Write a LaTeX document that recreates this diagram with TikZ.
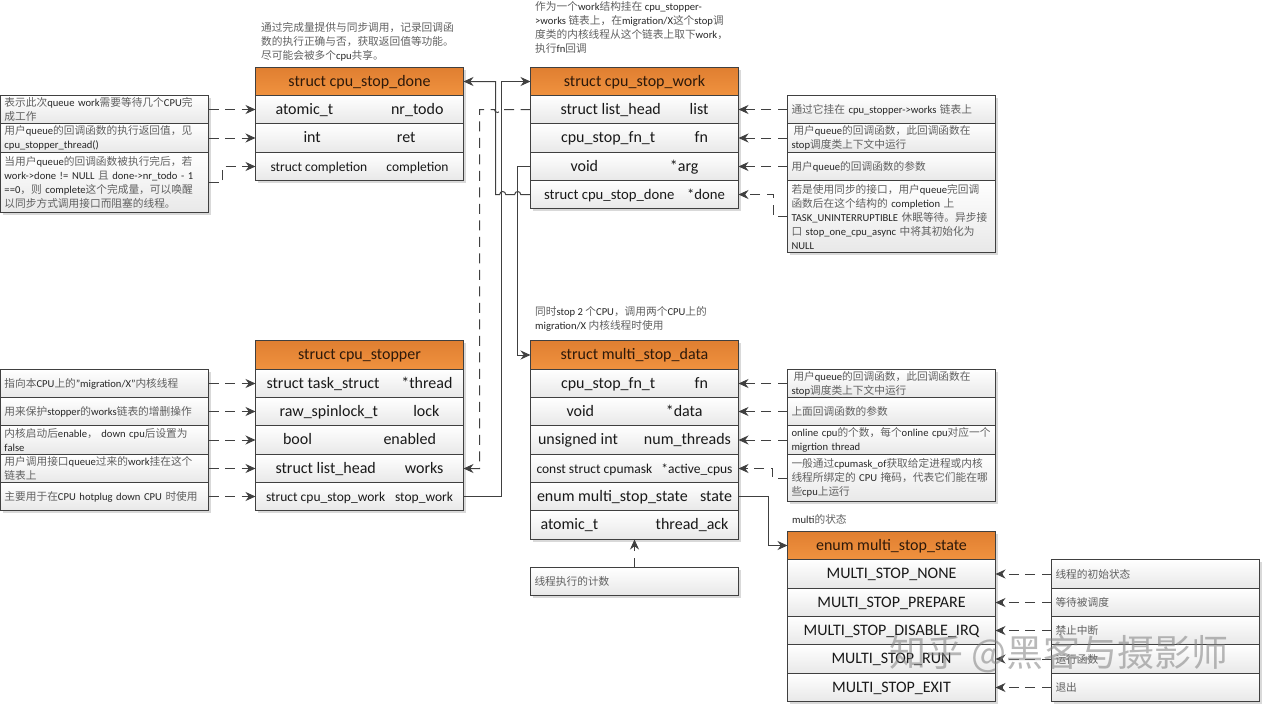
\documentclass[tikz,border=0pt]{standalone}
\usepackage{fontspec}
\setmainfont{Carlito}
\newfontfamily\cjk{Noto Sans CJK SC}
\usetikzlibrary{arrows.meta,shadows}
\definecolor{linegray}{HTML}{404040}
\definecolor{zhgray}{HTML}{606060}
\definecolor{hdtop}{HTML}{E07F31}
\definecolor{hdbot}{HTML}{F0923F}
\newcommand{\zh}[1]{{\cjk\fontsize{10.7}{14}\selectfont\color{zhgray}#1}}
\newcommand{\fld}[3]{\hbox to #1pt{#2\hfill #3}}
\tikzset{
	basebox/.style={draw=linegray, line width=.9pt, inner sep=0pt, outer sep=0pt, minimum width=208pt,
		top color=white, bottom color=black!9, text=black!90,
		copy shadow={shadow xshift=2pt, shadow yshift=-2pt, draw=none, fill=black!15}},
	rowbox/.style={basebox, text height=11.5pt, text depth=2.5pt, font=\fontsize{16}{18}\selectfont},
	smallrow/.style={rowbox, font=\fontsize{13.5}{16}\selectfont},
	hdbox/.style={rowbox, top color=hdtop, bottom color=hdbot, text=black!80!hdtop},
	notebox/.style={basebox, align=left, text width=200pt, inner xsep=4pt, text=black!85,
		font=\fontsize{10.6}{14}\selectfont},
	plainnote/.style={inner sep=0pt, anchor=north west, align=left, text=black!85,
		font=\fontsize{10.6}{14}\selectfont},
	wire/.style={draw=linegray, line width=1pt, -{Stealth[length=10pt,width=9pt]}},
	dashwire/.style={wire, dash pattern=on 10pt off 6.5pt}
}
\begin{document}
\begin{tikzpicture}[x=1pt,y=-1pt]
	\useasboundingbox (0,0) rectangle (1262,704);
	% cpu_stop_done
	\node[hdbox, minimum height=28pt] (dnhd) at (359.5,81.5) {struct cpu\_stop\_done};
	\node[rowbox, minimum height=28pt] (dnatom) at (359.5,109.5) {\fld{168}{atomic\_t}{nr\_todo}};
	\node[rowbox, minimum height=29pt] (dnret) at (359.5,138) {\fld{112}{int}{ret}};
	\node[smallrow, minimum height=28pt] (dncomp) at (359.5,166.5) {\fld{178}{struct completion}{completion}};
	% cpu_stop_work
	\node[hdbox, minimum height=28pt] (wkhd) at (634.5,81.5) {struct cpu\_stop\_work};
	\node[rowbox, minimum height=28pt] (wklist) at (634.5,109.5) {\fld{148}{struct list\_head}{list}};
	\node[rowbox, minimum height=29pt] (wkfn) at (634.5,138) {\fld{147}{cpu\_stop\_fn\_t}{fn}};
	\node[rowbox, minimum height=28pt] (wkarg) at (634.5,166.5) {\fld{128}{void}{*arg}};
	\node[rowbox, minimum height=28pt, font=\fontsize{14.7}{16}\selectfont] (wkdone) at (634.5,194.5) {\fld{181}{struct cpu\_stop\_done}{*done}};
	% cpu_stopper
	\node[hdbox, minimum height=29pt] (sthd) at (359.5,355) {struct cpu\_stopper};
	\node[rowbox, minimum height=28pt] (stthr) at (359.5,383.5) {\fld{186}{struct task\_struct}{*thread}};
	\node[rowbox, minimum height=28pt] (stlock) at (359.5,411.5) {\fld{160}{raw\_spinlock\_t}{lock}};
	\node[rowbox, minimum height=29pt] (sten) at (359.5,440) {\fld{153}{bool}{enabled}};
	\node[rowbox, minimum height=28pt] (stworks) at (359.5,468.5) {\fld{168}{struct list\_head}{works}};
	\node[smallrow, minimum height=28pt] (stwork) at (359.5,496.5) {\fld{187}{struct cpu\_stop\_work}{stop\_work}};
	% multi_stop_data
	\node[hdbox, minimum height=29pt] (mdhd) at (634.5,355) {struct multi\_stop\_data};
	\node[rowbox, minimum height=28pt] (mdfn) at (634.5,383.5) {\fld{147}{cpu\_stop\_fn\_t}{fn}};
	\node[rowbox, minimum height=28pt] (mddata) at (634.5,411.5) {\fld{136}{void}{*data}};
	\node[rowbox, minimum height=29pt] (mdnum) at (634.5,440) {\fld{193}{unsigned int}{num\_threads}};
	\node[smallrow, minimum height=28pt] (mdmask) at (634.5,468.5) {\fld{196}{const struct cpumask}{*active\_cpus}};
	\node[rowbox, minimum height=28pt] (mdstate) at (634.5,496.5) {\fld{195}{enum multi\_stop\_state}{state}};
	\node[rowbox, minimum height=29pt] (mdack) at (634.5,525) {\fld{188}{atomic\_t}{thread\_ack}};
	\node[notebox, minimum height=28pt] (mdnote) at (634.5,581.5) {\zh{线程执行的计数}};
	% multi_stop_state
	\node[hdbox, minimum height=28pt] (eshd) at (891.5,545.5) {enum multi\_stop\_state};
	\node[rowbox, minimum height=29pt] (esnone) at (891.5,574) {MULTI\_STOP\_NONE};
	\node[rowbox, minimum height=28pt] (esprep) at (891.5,602.5) {MULTI\_STOP\_PREPARE};
	\node[rowbox, minimum height=28pt] (esirq) at (891.5,630.5) {MULTI\_STOP\_DISABLE\_IRQ};
	\node[rowbox, minimum height=29pt] (esrun) at (891.5,659) {MULTI\_STOP\_RUN};
	\node[rowbox, minimum height=28pt] (esexit) at (891.5,687.5) {MULTI\_STOP\_EXIT};
	% left notes of cpu_stop_done
	\node[notebox, minimum height=28pt] (nd1) at (104.5,109.5) {\zh{表示此次}queue work\zh{需要等待几个}CPU\zh{完}\\\zh{成工作}};
	\node[notebox, minimum height=29pt] (nd2) at (104.5,138) {\zh{用户}queue\zh{的回调函数的执行返回值，见}\\cpu\_stopper\_thread()};
	\node[notebox, minimum height=60pt] (nd3) at (104.5,182.5) {\zh{当用户}queue\zh{的回调函数被执行完后，若}\\work->done != NULL \zh{且} done->nr\_todo - 1\\==0\zh{，则} complete\zh{这个完成量，可以唤醒}\\\zh{以同步方式调用接口而阻塞的线程。}};
	% right notes of cpu_stop_work
	\node[notebox, minimum height=28pt] (nw1) at (891.5,109.5) {\zh{通过它挂在} cpu\_stopper->works \zh{链表上}};
	\node[notebox, minimum height=29pt] (nw2) at (891.5,138) {\hspace{2pt}\zh{用户}queue\zh{的回调函数，此回调函数在}\\stop\zh{调度类上下文中运行}};
	\node[notebox, minimum height=28pt] (nw3) at (891.5,166.5) {\zh{用户}queue\zh{的回调函数的参数}};
	\node[notebox, minimum height=72pt] (nw4) at (891.5,216.5) {\zh{若是使用同步的接口，用户}queue\zh{完回调}\\\zh{函数后在这个结构的} completion \zh{上}\\TASK\_UNINTERRUPTIBLE \zh{休眠等待。异步接}\\\zh{口} stop\_one\_cpu\_async \zh{中将其初始化为}\\NULL};
	% left notes of cpu_stopper
	\node[notebox, minimum height=28pt] (ns1) at (104.5,383.5) {\zh{指向本}CPU\zh{上的}"migration/X"\zh{内核线程}};
	\node[notebox, minimum height=28pt] (ns2) at (104.5,411.5) {\zh{用来保护}stopper\zh{的}works\zh{链表的增删操作}};
	\node[notebox, minimum height=29pt] (ns3) at (104.5,440) {\zh{内核启动后}enable\zh{，} down cpu\zh{后设置为}\\false};
	\node[notebox, minimum height=28pt] (ns4) at (104.5,468.5) {\zh{用户调用接口}queue\zh{过来的}work\zh{挂在这个}\\\zh{链表上}};
	\node[notebox, minimum height=28pt] (ns5) at (104.5,496.5) {\zh{主要用于在}CPU hotplug down CPU \zh{时使用}};
	% right notes of multi_stop_data
	\node[notebox, minimum height=28pt] (nm1) at (891.5,383.5) {\hspace{2pt}\zh{用户}queue\zh{的回调函数，此回调函数在}\\stop\zh{调度类上下文中运行}};
	\node[notebox, minimum height=28pt] (nm2) at (891.5,411.5) {\zh{上面回调函数的参数}};
	\node[notebox, minimum height=29pt] (nm3) at (891.5,440) {online cpu\zh{的个数，每个}online cpu\zh{对应一个}\\migrtion thread};
	\node[notebox, minimum height=47pt] (nm4) at (891.5,478) {\zh{一般通过}cpumask\_of\zh{获取给定进程或内核}\\\zh{线程所绑定的} CPU \zh{掩码，代表它们能在哪}\\\zh{些}cpu\zh{上运行}};
	% right notes of multi_stop_state
	\node[notebox, minimum height=29pt] (ne1) at (1155.5,574) {\zh{线程的初始状态}};
	\node[notebox, minimum height=28pt] (ne2) at (1155.5,602.5) {\zh{等待被调度}};
	\node[notebox, minimum height=28pt] (ne3) at (1155.5,630.5) {\zh{禁止中断}};
	\node[notebox, minimum height=29pt] (ne4) at (1155.5,659) {\zh{运行函数}};
	\node[notebox, minimum height=28pt] (ne5) at (1155.5,687.5) {\zh{退出}};
	% free notes above the boxes
	\node[plainnote] (tdn) at (261,22) {\zh{通过完成量提供与同步调用，记录回调函}\\\zh{数的执行正确与否，获取返回值等功能。}\\\zh{尽可能会被多个}cpu\zh{共享。}};
	\node[plainnote] (twk) at (535,1) {\zh{作为一个}work\zh{结构挂在} cpu\_stopper-\\>works \zh{链表上，在}migration/X\zh{这个}stop\zh{调}\\\zh{度类的内核线程从这个链表上取下}work\zh{，}\\\zh{执行}fn\zh{回调}};
	\node[plainnote] (tmd) at (535,306) {\zh{同时}stop 2 \zh{个}CPU\zh{，调用两个}CPU\zh{上的}\\migration/X \zh{内核线程时使用}};
	\node[plainnote] (tes) at (792,514) {multi\zh{的状态}};
	% dashed connectors, left side
	\draw[dashwire] (nd1) -- (dnatom);
	\draw[dashwire] (nd2) -- (dnret);
	\draw[dashwire] (nd3.east) -- ++(14,0) |- (dncomp.west);
	\draw[dashwire] (ns1) -- (stthr);
	\draw[dashwire] (ns2) -- (stlock);
	\draw[dashwire] (ns3) -- (sten);
	\draw[dashwire] (ns4) -- (stworks);
	\draw[dashwire] (ns5) -- (stwork);
	% dashed connectors, right side
	\draw[dashwire] (nw1) -- (wklist);
	\draw[dashwire] (nw2) -- (wkfn);
	\draw[dashwire] (nw3) -- (wkarg);
	\draw[dashwire] (nw4.west) -- ++(-14.5,0) |- (wkdone.east);
	\draw[dashwire] (nm1) -- (mdfn);
	\draw[dashwire] (nm2) -- (mddata);
	\draw[dashwire] (nm3) -- (mdnum);
	\draw[dashwire] (nm4.west) -- ++(-15,0) |- (mdmask.east);
	\draw[dashwire] (mdnote) -- (mdack);
	\draw[dashwire] (ne1) -- (esnone);
	\draw[dashwire] (ne2) -- (esprep);
	\draw[dashwire] (ne3) -- (esirq);
	\draw[dashwire] (ne4) -- (esrun);
	\draw[dashwire] (ne5) -- (esexit);
	% links between the structs
	\draw[wire] (wkdone.west) -- ++(-9.8,0) arc[start angle=0, end angle=180, radius=3pt] -- ++(-9,0) arc[start angle=0, end angle=180, radius=3pt] -- ++(-4,0) |- (dnhd.east);
	\draw[wire] (stwork.east) -- ++(38,0) |- (wkhd.west);
	\draw[wire] (wkarg.west) -- ++(-13.5,0) |- (mdhd.west);
	\draw[wire] (mdstate.east) -- ++(29.5,0) |- (eshd.west);
	\draw[dashwire] (wklist.west) -- ++(-30,0) arc[start angle=0, end angle=-180, radius=3pt] -- ++(-15,0) |- (stworks.east);
	% watermark
	\node[text=gray, opacity=.55, font=\cjk\fontsize{37}{37}\selectfont] (mark) at (1059,654) {知乎 @黑客与摄影师};
\end{tikzpicture}
\end{document}
